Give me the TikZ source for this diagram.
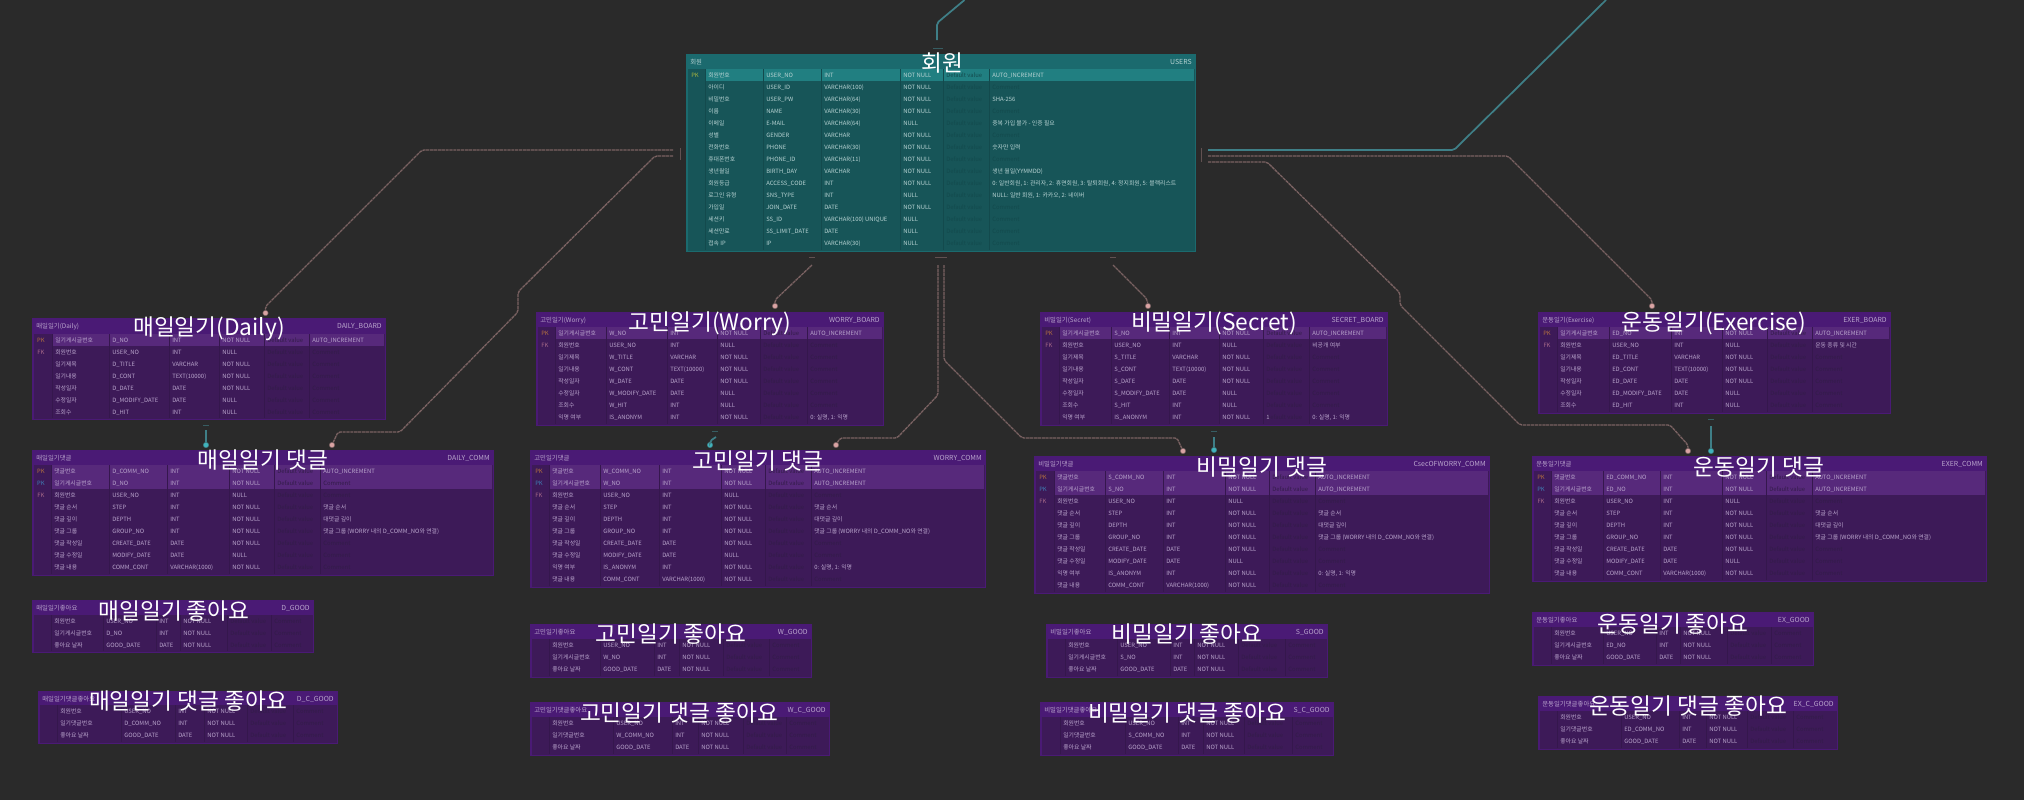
\documentclass[tikz,border=0pt]{standalone}
\usepackage{fontspec}
\setmainfont{Noto Sans CJK KR}
\catcode`\_=12 \relax
\definecolor{bgc}{HTML}{2A2A2A}
\definecolor{phead}{HTML}{4A1A75}
\definecolor{pbody}{HTML}{3D1A58}
\definecolor{phl}{HTML}{57297B}
\definecolor{psep}{HTML}{35174D}
\definecolor{ptxt}{HTML}{B9A4CC}
\definecolor{pdim}{HTML}{331C49}
\definecolor{thead}{HTML}{1B6A6E}
\definecolor{tbody}{HTML}{175558}
\definecolor{thl}{HTML}{217F81}
\definecolor{tsep}{HTML}{134A4D}
\definecolor{ttxt}{HTML}{B7D3D3}
\definecolor{tdim}{HTML}{134A4D}
\definecolor{fkc}{HTML}{7A6262}
\definecolor{idc}{HTML}{3F7F87}
\definecolor{pinp}{HTML}{D9A3A3}
\definecolor{pint}{HTML}{3FB4BC}
\definecolor{keyo}{HTML}{B5713F}
\definecolor{keyb}{HTML}{3F7FB5}
\definecolor{keyp}{HTML}{A86A8A}
\definecolor{keyy}{HTML}{A8B53F}
\newcount\rowy
\newcount\rowc
\tikzset{
  cell/.style={anchor=base west,inner sep=0pt,text=curtxt,font=\fontsize{4.4}{5}\selectfont},
  celldim/.style={cell,text=curdim},
  titlecell/.style={anchor=center,inner sep=0pt,text=white,font=\fontsize{17}{20}\selectfont},
  tblnode/.style={rectangle,draw=none,fill=curhead,inner sep=0pt,outer sep=0pt},
  fkline/.style={draw=fkc,line width=1pt,dash pattern=on 2.4pt off 0.5pt,rounded corners=1.5pt},
  idline/.style={draw=idc,line width=1.3pt,rounded corners=1.5pt},
  fktick/.style={draw=fkc!70!bgc,line width=0.5pt},
  idtick/.style={draw=idc!60!bgc,line width=0.5pt},
  pinf/.style={circle,fill=pinp,draw=fkc,line width=0.4pt,minimum size=4pt,inner sep=0pt},
  pini/.style={circle,fill=pint,draw=idc,line width=0.4pt,minimum size=4pt,inner sep=0pt},
}
\newcommand\setpurple{\colorlet{curhead}{phead}\colorlet{curbody}{pbody}\colorlet{curhl}{phl}\colorlet{cursep}{psep}\colorlet{curtxt}{ptxt}\colorlet{curdim}{pdim}}
\newcommand\setteal{\colorlet{curhead}{thead}\colorlet{curbody}{tbody}\colorlet{curhl}{thl}\colorlet{cursep}{tsep}\colorlet{curtxt}{ttxt}\colorlet{curdim}{tdim}}
\newcommand\cols[6]{\def\ca{#1}\def\cb{#2}\def\cc{#3}\def\cd{#4}\def\ce{#5}\def\cf{#6}}
% name x1 y1 x2 y2 firstrow nhigh
\newcommand\ertable[7]{%
  \def\tname{#1}\def\tx{#2}\def\ty{#3}\def\tX{#4}\def\tY{#5}%
  \pgfmathsetlengthmacro\tw{(#4-#2)*0.75pt}%
  \pgfmathsetlengthmacro\th{(#5-#3)*0.75pt}%
  \node[tblnode,minimum width=\tw,minimum height=\th] (#1) at ({(#2+#4)/2},{(#3+#5)/2}) {};
  \fill[curbody] ({#2+1.5},{#6-6}) rectangle ({#4-1.5},{#5-1.5});
  \ifnum#7>0 \fill[curhl] ({\ca-3},{#6-6}) rectangle ({#4-2},{#6-6+12*#7}); \fi
  \foreach \sx in {\ca,\cb,\cc,\cd,\ce,\cf}{\draw[cursep,line width=0.5pt] ({\sx-3},{#6-6}) -- ({\sx-3},{#5-2});}
  \rowy=#6\relax}
% icon, c1..c4, comment
\newcommand\rw[6]{%
  \global\advance\rowc by 1\relax
  \edef\ry{\the\numexpr\rowy+2\relax}%
  \def\tmpic{#1}\ifx\tmpic\empty\else\node[cell,anchor=base] (ri\the\rowc) at ({\tx+9},\ry) {#1};\fi
  \node[cell] (ra\the\rowc) at (\ca,\ry) {#2};
  \node[cell] (rb\the\rowc) at (\cb,\ry) {#3};
  \node[cell] (rc\the\rowc) at (\cc,\ry) {#4};
  \node[cell] (rd\the\rowc) at (\cd,\ry) {#5};
  \node[celldim] (re\the\rowc) at (\ce,\ry) {Default value};
  \def\tmpc{#6}\ifx\tmpc\empty\node[celldim] (rf\the\rowc) at (\cf,\ry) {Comment};\else\node[cell] (rf\the\rowc) at (\cf,\ry) {#6};\fi
  \advance\rowy by 12\relax}
% left, title, cx, cy, right
\newcommand\ertitle[5]{%
  \node[cell,font=\fontsize{4.8}{6}\selectfont] (\tname-left) at ({\tx+4},{\ty+10}) {#1};
  \node[cell,anchor=base east,font=\fontsize{5.2}{6}\selectfont] (\tname-right) at ({\tX-4},{\ty+10}) {#5};
  \node[titlecell] (\tname-title) at (#3,{#4+3}) {#2};}
\newcommand\pk[1]{\textcolor{#1}{PK}}
\newcommand\fk[1]{\textcolor{#1}{FK}}
% board rows: prefix column names
\newcommand\boardrows[2]{%
  \rw{\pk{keyo}}{일기게시글번호}{#1_NO}{INT}{NOT NULL}{AUTO_INCREMENT}
  \rw{\fk{keyp}}{회원번호}{USER_NO}{INT}{NULL}{#2}
  \rw{}{일기제목}{#1_TITLE}{VARCHAR}{NOT NULL}{}
  \rw{}{일기내용}{#1_CONT}{TEXT(10000)}{NOT NULL}{}
  \rw{}{작성일자}{#1_DATE}{DATE}{NOT NULL}{}
  \rw{}{수정일자}{#1_MODIFY_DATE}{DATE}{NULL}{}
  \rw{}{조회수}{#1_HIT}{INT}{NULL}{}}
\newcommand\commtop[3]{%
  \rw{\pk{keyo}}{댓글번호}{#1_COMM_NO}{INT}{NOT NULL}{AUTO_INCREMENT}
  \rw{\pk{keyb}}{일기게시글번호}{#1_NO}{INT}{NOT NULL}{#2}
  \rw{\fk{keyp}}{회원번호}{USER_NO}{INT}{NULL}{}
  \rw{}{댓글 순서}{STEP}{INT}{NOT NULL}{댓글 순서}
  \rw{}{댓글 깊이}{DEPTH}{INT}{NOT NULL}{대댓글 깊이}
  \rw{}{댓글 그룹}{GROUP_NO}{INT}{NOT NULL}{댓글 그룹 (WORRY 내의 D_COMM_NO와 연결)}
  \rw{}{댓글 작성일}{CREATE_DATE}{DATE}{NOT NULL}{}
  \rw{}{댓글 수정일}{MODIFY_DATE}{DATE}{NULL}{}}
\newcommand\commend{\rw{}{댓글 내용}{COMM_CONT}{VARCHAR(1000)}{NOT NULL}{}}
\newcommand\anonrow{\rw{}{익명 여부}{IS_ANONYM}{INT}{NOT NULL}{0: 실명, 1: 익명}}
\newcommand\goodrows[3]{%
  \rw{}{회원번호}{USER_NO}{INT}{NOT NULL}{}
  \rw{}{#1}{#2}{INT}{NOT NULL}{}
  \rw{}{좋아요 날짜}{GOOD_DATE}{DATE}{NOT NULL}{}}
\begin{document}
\begin{tikzpicture}[x=0.75pt,y=-0.75pt]
\useasboundingbox (0,0) rectangle (2024,800);
\fill[bgc] (0,0) rectangle (2024,800);
% ---------- USERS
\setteal
\cols{708}{766}{824}{903}{946}{992}
\ertable{users}{686}{54}{1196}{252}{75}{1}
\rw{\pk{keyy}}{회원번호}{USER_NO}{INT}{NOT NULL}{AUTO_INCREMENT}
\rw{}{아이디}{USER_ID}{VARCHAR(100)}{NOT NULL}{}
\rw{}{비밀번호}{USER_PW}{VARCHAR(64)}{NOT NULL}{SHA-256}
\rw{}{이름}{NAME}{VARCHAR(30)}{NOT NULL}{}
\rw{}{이메일}{E-MAIL}{VARCHAR(64)}{NULL}{중복 가입 불가 - 인증 필요}
\rw{}{성별}{GENDER}{VARCHAR}{NOT NULL}{}
\rw{}{전화번호}{PHONE}{VARCHAR(30)}{NOT NULL}{숫자만 입력}
\rw{}{휴대폰번호}{PHONE_ID}{VARCHAR(11)}{NOT NULL}{}
\rw{}{생년월일}{BIRTH_DAY}{VARCHAR}{NOT NULL}{생년 월일(YYMMDD)}
\rw{}{회원등급}{ACCESS_CODE}{INT}{NOT NULL}{0: 일반회원, 1: 관리자, 2: 휴면회원, 3: 탈퇴회원, 4: 정지회원, 5: 블랙리스트}
\rw{}{로그인 유형}{SNS_TYPE}{INT}{NULL}{NULL: 일반 회원, 1: 카카오, 2: 네이버}
\rw{}{가입일}{JOIN_DATE}{DATE}{NOT NULL}{}
\rw{}{세션키}{SS_ID}{VARCHAR(100) UNIQUE}{NULL}{}
\rw{}{세션만료}{SS_LIMIT_DATE}{DATE}{NULL}{}
\rw{}{접속 IP}{IP}{VARCHAR(30)}{NULL}{}
\ertitle{회원}{회원}{942}{60}{USERS}
% ---------- DAILY
\setpurple
\cols{55}{112}{172}{222}{267}{312}
\ertable{dboard}{32}{318}{386}{420}{340}{1}
\boardrows{D}{}
\ertitle{매일일기(Daily)}{매일일기(Daily)}{209}{326}{DAILY_BOARD}
\cols{54}{112}{170}{232}{277}{323}
\ertable{dcomm}{32}{450}{494}{576}{471}{2}
\commtop{D}{}{}
\commend
\ertitle{매일일기댓글}{매일일기 댓글}{263}{457}{DAILY_COMM}
\cols{54}{106}{159}{183}{230}{274}
\ertable{dgood}{32}{600}{314}{653}{621}{0}
\goodrows{일기게시글번호}{D_NO}{}
\ertitle{매일일기좋아요}{매일일기 좋아요}{174}{608}{D_GOOD}
\cols{60}{124}{178}{207}{250}{296}
\ertable{dcgood}{38}{691}{338}{744}{711}{0}
\goodrows{일기댓글번호}{D_COMM_NO}{}
\ertitle{매일일기댓글좋아요}{매일일기 댓글 좋아요}{188}{698}{D_C_GOOD}
% ---------- WORRY
\cols{558}{609}{670}{720}{763}{810}
\ertable{wboard}{536}{312}{884}{426}{333}{1}
\boardrows{W}{}
\anonrow
\ertitle{고민일기(Worry)}{고민일기(Worry)}{710}{321}{WORRY_BOARD}
\cols{552}{603}{662}{724}{768}{814}
\ertable{wcomm}{530}{450}{986}{588}{471}{2}
\commtop{W}{AUTO_INCREMENT}{}
\anonrow
\commend
\ertitle{고민일기댓글}{고민일기 댓글}{758}{458}{WORRY_COMM}
\cols{552}{603}{657}{682}{726}{772}
\ertable{wgood}{530}{624}{812}{678}{645}{0}
\goodrows{일기게시글번호}{W_NO}{}
\ertitle{고민일기좋아요}{고민일기 좋아요}{671}{631}{W_GOOD}
\cols{552}{616}{675}{701}{746}{789}
\ertable{wcgood}{530}{702}{830}{756}{723}{0}
\goodrows{일기댓글번호}{W_COMM_NO}{}
\ertitle{고민일기댓글좋아요}{고민일기 댓글 좋아요}{679}{710}{W_C_GOOD}
% ---------- SECRET
\cols{1062}{1114}{1172}{1222}{1266}{1312}
\ertable{sboard}{1040}{312}{1388}{426}{333}{1}
\boardrows{S}{비공개 여부}
\anonrow
\node[cell] (sone) at (\ce,419) {1};
\ertitle{비밀일기(Secret)}{비밀일기(Secret)}{1214}{320}{SECRET_BOARD}
\cols{1057}{1108}{1166}{1228}{1272}{1318}
\ertable{scomm}{1034}{456}{1490}{594}{477}{2}
\commtop{S}{AUTO_INCREMENT}{}
\anonrow
\commend
\ertitle{비밀일기댓글}{비밀일기 댓글}{1262}{464}{CsecOFWORRY_COMM}
\cols{1068}{1120}{1173}{1197}{1241}{1288}
\ertable{sgood}{1046}{624}{1328}{678}{645}{0}
\goodrows{일기게시글번호}{S_NO}{}
\ertitle{비밀일기좋아요}{비밀일기 좋아요}{1187}{631}{S_GOOD}
\cols{1063}{1128}{1181}{1206}{1247}{1295}
\ertable{scgood}{1040}{702}{1334}{756}{723}{0}
\goodrows{일기댓글번호}{S_COMM_NO}{}
\ertitle{비밀일기댓글좋아요}{비밀일기 댓글 좋아요}{1187}{710}{S_C_GOOD}
% ---------- EXERCISE
\cols{1560}{1612}{1674}{1725}{1770}{1815}
\ertable{eboard}{1538}{312}{1891}{414}{333}{1}
\boardrows{ED}{운동 종류 및 시간}
\ertitle{운동일기(Exercise)}{운동일기(Exercise)}{1714}{320}{EXER_BOARD}
\cols{1554}{1606}{1663}{1725}{1769}{1815}
\ertable{ecomm}{1532}{456}{1987}{582}{477}{2}
\commtop{ED}{AUTO_INCREMENT}{}
\commend
\ertitle{운동일기댓글}{운동일기 댓글}{1759}{464}{EXER_COMM}
\cols{1554}{1606}{1659}{1683}{1730}{1774}
\ertable{egood}{1532}{612}{1814}{666}{633}{0}
\goodrows{일기게시글번호}{ED_NO}{}
\ertitle{운동일기좋아요}{운동일기 좋아요}{1673}{621}{EX_GOOD}
\cols{1560}{1624}{1682}{1709}{1750}{1796}
\ertable{ecgood}{1538}{696}{1838}{750}{717}{0}
\goodrows{일기댓글번호}{ED_COMM_NO}{}
\ertitle{운동일기댓글좋아요}{운동일기 댓글 좋아요}{1688}{703}{EX_C_GOOD}
% ---------- connector ends
\coordinate (uTop) at (937,40);
\coordinate (uTopOut) at (964.5,0);
\coordinate (uR1) at (1208,150);
\coordinate (uROut) at (1606,0);
\coordinate (uR2) at (1208,156);
\coordinate (uR3) at (1208,162);
\coordinate (uL1) at (673,150);
\coordinate (uL2) at (673,156);
\coordinate (uB1) at (812,265);
\coordinate (uB2a) at (938,265);
\coordinate (uB2b) at (944,265);
\coordinate (uB3) at (1113,265);
\node[pinf] (pDB) at (265.5,313) {};
\node[pinf] (pDC) at (332,445) {};
\node[pini] (pDI) at (206,445) {};
\node[pinf] (pWB) at (775,306) {};
\node[pinf] (pWC) at (836,445) {};
\node[pini] (pWI) at (710,445) {};
\node[pinf] (pSB) at (1148,306) {};
\node[pinf] (pSC) at (1183,451) {};
\node[pini] (pSI) at (1214,450) {};
\node[pinf] (pEB) at (1652,306) {};
\node[pinf] (pEC) at (1688,451) {};
\node[pini] (pEI) at (1711,451) {};
\coordinate (dI) at (206,430);
\coordinate (wI) at (716,437);
\coordinate (sI) at (1214,437);
\coordinate (eI) at (1711,426);
% ---------- identifying connectors
\draw[idline] (uTop) -- (937,23) -- (uTopOut);
\draw[idline] (uR1) -- (1454,150) -- (uROut);
\draw[idline] (dI) -- (pDI);
\draw[idline] (wI) -- (710,441) -- (pWI);
\draw[idline] (sI) -- (pSI);
\draw[idline] (eI) -- (pEI);
% ---------- non-identifying connectors
\draw[fkline] (uL1) -- (422,150) -- (265.5,306.5) -- (pDB);
\draw[fkline] (uL2) -- (655,156) -- (518,292) -- (518,312) -- (400,432) -- (338,432) -- (pDC);
\draw[fkline] (uB1) -- (775,300) -- (pWB);
\draw[fkline] (uB2a) -- (938,395) -- (897,438) -- (840,438) -- (pWC);
\draw[fkline] (uB2b) -- (944,360) -- (1022,438) -- (1177,438) -- (pSC);
\draw[fkline] (uB3) -- (1147,299) -- (pSB);
\draw[fkline] (uR2) -- (1508,156) -- (1652,300) -- (pEB);
\draw[fkline] (uR3) -- (1267,162) -- (1400,293) -- (1400,305) -- (1520,425) -- (1670,425) -- (1688,445) -- (pEC);
% ---------- ticks
\draw[idtick] (933,48) -- (943,48);
\draw[fktick] (1201,148) -- (1201,162);
\draw[fktick] (680,148) -- (680,160);
\draw[fktick] (809,257) -- (815,257);
\draw[fktick] (935,257) -- (947,257);
\draw[fktick] (1110,257) -- (1116,257);
\draw[idtick] (203,425) -- (209,425);
\draw[idtick] (712,431) -- (718,431);
\draw[idtick] (1211,431) -- (1217,431);
\draw[idtick] (1708,419) -- (1714,419);
\end{tikzpicture}
\end{document}
